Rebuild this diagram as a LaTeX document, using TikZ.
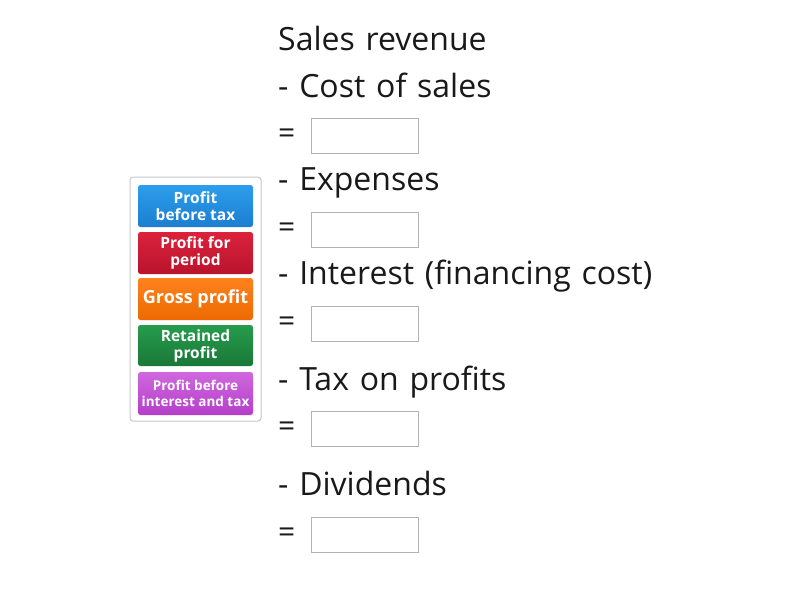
\documentclass[tikz,border=0pt]{standalone}
\usepackage{fontspec}
\setmainfont{Open Sans}
\newcommand\mywidesp{\spaceskip=10.8pt plus 3pt minus 2pt\relax}
\begin{document}
\begin{tikzpicture}[x=1pt,y=-1pt,
  line/.style={anchor=base west, inner sep=0pt, font=\fontsize{32}{36}\selectfont, execute at begin node=\mywidesp, text=black!90},
  eqsign/.style={anchor=base west, inner sep=0pt, font=\fontsize{30}{34}\selectfont, text=black!90},
  ansbox/.style={draw=black!30, fill=white, line width=1pt, minimum width=107pt, minimum height=35pt, inner sep=0pt},
  tile/.style={rounded corners=2.5pt, minimum width=115pt, inner sep=0pt, text=white, align=center, font=\fontsize{15.5}{17}\selectfont\bfseries},
  panel/.style={draw=black!22, fill=white, rounded corners=3pt, line width=1pt, minimum width=131pt, minimum height=244pt}
]
\useasboundingbox (0,0) rectangle (800,600);
\fill[white] (0,0) rectangle (800,600);

% panel of tiles
\node[panel] (panel) at (195.5,299) {};
\node[tile, minimum height=42pt, top color={rgb,255:red,44;green,158;blue,236}, bottom color={rgb,255:red,28;green,126;blue,208}] (t1) at (195.5,206) {Profit\\before tax};
\node[tile, minimum height=42pt, top color={rgb,255:red,220;green,34;blue,60}, bottom color={rgb,255:red,184;green,20;blue,44}] (t2) at (195.5,253) {Profit for\\period};
\node[tile, minimum height=42pt, font=\fontsize{18}{20}\selectfont\bfseries, top color={rgb,255:red,255;green,130;blue,30}, bottom color={rgb,255:red,236;green,106;blue,0}] (t3) at (195.5,299) {Gross profit};
\node[tile, minimum height=41pt, top color={rgb,255:red,38;green,156;blue,76}, bottom color={rgb,255:red,26;green,120;blue,56}] (t4) at (195.5,345.5) {Retained\\profit};
\node[tile, minimum height=43pt, font=\fontsize{13.5}{16}\selectfont\bfseries, top color={rgb,255:red,208;green,104;blue,222}, bottom color={rgb,255:red,180;green,62;blue,202}] (t5) at (195.5,393.5) {Profit before\\interest and tax};

% text lines
\node[line] (l1) at (278,50) {Sales revenue};
\node[line] (l2) at (278,97) {- Cost of sales};
\node[eqsign] (e1) at (278,143.5) {=};
\node[ansbox] (b1) at (364.5,135.5) {};
\node[line] (l3) at (278,190) {- Expenses};
\node[eqsign] (e2) at (278,237.5) {=};
\node[ansbox] (b2) at (364.5,229.5) {};
\node[line] (l4) at (278,284) {- Interest (financing cost)};
\node[eqsign] (e3) at (278,331.5) {=};
\node[ansbox] (b3) at (364.5,323.5) {};
\node[line] (l5) at (278,390) {- Tax on profits};
\node[eqsign] (e4) at (278,436.5) {=};
\node[ansbox] (b4) at (364.5,428.5) {};
\node[line] (l6) at (278,495) {- Dividends};
\node[eqsign] (e5) at (278,542.5) {=};
\node[ansbox] (b5) at (364.5,534.5) {};
\end{tikzpicture}
\end{document}
